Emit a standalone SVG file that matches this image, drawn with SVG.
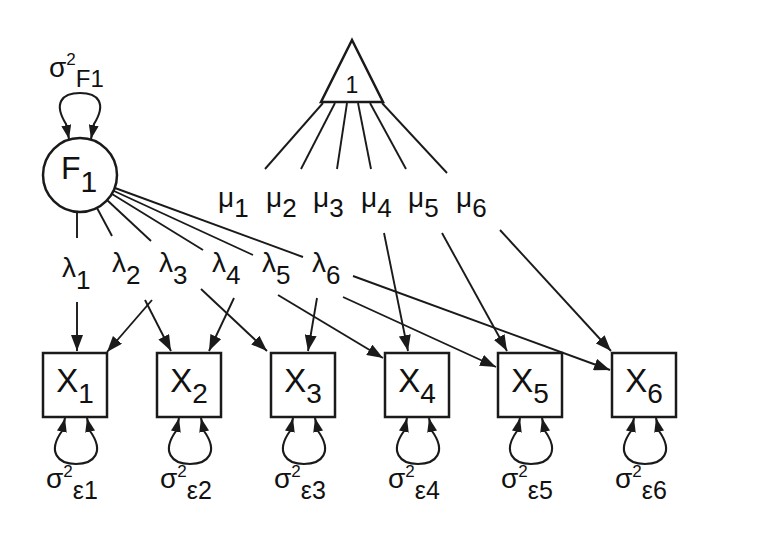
<svg xmlns="http://www.w3.org/2000/svg" width="768" height="541" viewBox="0 0 768 541">
<defs>
<style>
.ln{stroke:#1a1a1a;stroke-width:1.9;fill:none}
.ar{marker-end:url(#ah)}
.node{fill:#fff;stroke:#1a1a1a;stroke-width:2.5}
.t{font-family:"Liberation Sans",Arial,Helvetica,sans-serif;fill:#111}
.loop{stroke:#1a1a1a;stroke-width:2.1;fill:none;marker-start:url(#lh);marker-end:url(#lh)}
</style>
<marker id="ah" viewBox="0 0 16 12" refX="16" refY="6" markerWidth="16" markerHeight="12" markerUnits="userSpaceOnUse" orient="auto"><path d="M0,0 L16,6 L0,12 z" fill="#1a1a1a"/></marker>
<marker id="lh" viewBox="0 0 14 10" refX="14" refY="5" markerWidth="14" markerHeight="10" markerUnits="userSpaceOnUse" orient="auto-start-reverse"><path d="M0,0 L14,5 L0,10 z" fill="#1a1a1a"/></marker>
</defs>
<rect width="768" height="541" fill="#fff"/>

<g id="connectors">
  <!-- loadings F1 -> X -->
  <g id="e-lambda1"><line class="ln" x1="77" y1="212" x2="77" y2="238"/><line class="ln ar" x1="77" y1="302" x2="77" y2="351"/></g>
  <g id="e-lambda2"><line class="ln" x1="97" y1="208" x2="112" y2="236"/><line class="ln ar" x1="145" y1="300" x2="171" y2="351"/></g>
  <g id="e-lambda3"><line class="ln" x1="107" y1="200" x2="151" y2="241"/><line class="ln ar" x1="201" y1="289" x2="267" y2="351"/></g>
  <g id="e-lambda4"><line class="ln" x1="112" y1="194" x2="203" y2="250"/><line class="ln ar" x1="278" y1="295" x2="383" y2="358"/></g>
  <g id="e-lambda5"><line class="ln" x1="114" y1="191" x2="253" y2="255"/><line class="ln ar" x1="343" y1="297" x2="496" y2="367"/></g>
  <g id="e-lambda6"><line class="ln" x1="115" y1="188" x2="303" y2="257"/><line class="ln ar" x1="353" y1="276" x2="610" y2="370"/></g>
  <!-- intercepts 1 -> X -->
  <g id="e-mu1"><line class="ln" x1="323" y1="103" x2="265" y2="169"/><line class="ln ar" x1="152" y1="300" x2="107" y2="352"/></g>
  <g id="e-mu2"><line class="ln" x1="335" y1="103" x2="301" y2="169"/><line class="ln ar" x1="234" y1="298" x2="209" y2="351"/></g>
  <g id="e-mu3"><line class="ln" x1="347" y1="103" x2="337" y2="169"/><line class="ln ar" x1="317" y1="298" x2="308" y2="351"/></g>
  <g id="e-mu4"><line class="ln" x1="358" y1="103" x2="371" y2="169"/><line class="ln ar" x1="384" y1="233" x2="408" y2="351"/></g>
  <g id="e-mu5"><line class="ln" x1="370" y1="103" x2="406" y2="169"/><line class="ln ar" x1="442" y1="233" x2="507" y2="351"/></g>
  <g id="e-mu6"><line class="ln" x1="382" y1="103" x2="447" y2="173"/><line class="ln ar" x1="500" y1="230" x2="611" y2="351"/></g>
  <!-- variance loops -->
  <path id="loop-F1" class="loop" d="M69,139 L66,124 C53,103 62,93 80,93 C98,93 107,103 94,124 L91,139"/>
  <path id="loop-X1" class="loop" d="M65,418 L62,431 C47,452 58,464 76,464 C94,464 105,452 90,431 L87,418"/>
  <path id="loop-X2" class="loop" d="M179,418 L176,431 C161,452 172,464 190,464 C208,464 219,452 204,431 L201,418"/>
  <path id="loop-X3" class="loop" d="M293,418 L290,431 C275,452 286,464 304,464 C322,464 333,452 318,431 L315,418"/>
  <path id="loop-X4" class="loop" d="M407,418 L404,431 C389,452 400,464 418,464 C436,464 447,452 432,431 L429,418"/>
  <path id="loop-X5" class="loop" d="M520,418 L517,431 C502,452 513,464 531,464 C549,464 560,452 545,431 L542,418"/>
  <path id="loop-X6" class="loop" d="M634,418 L631,431 C616,452 627,464 645,464 C663,464 674,452 659,431 L656,418"/>
</g>

<g id="node-one">
  <polygon class="node" points="352,40 321,102 383,102" stroke-linejoin="miter"/>
  <text class="t" x="352" y="93" font-size="23" text-anchor="middle">1</text>
</g>

<g id="node-F1">
  <circle class="node" cx="80" cy="175" r="37"/>
  <text class="t" x="79" y="179" font-size="32" text-anchor="middle">F<tspan font-size="30" dy="13">1</tspan></text>
</g>

<g id="node-X1"><rect class="node" x="43" y="353" width="64" height="64"/><text class="t" x="75" y="392" font-size="33" text-anchor="middle">X<tspan font-size="28" dy="11">1</tspan></text></g>
<g id="node-X2"><rect class="node" x="157" y="353" width="64" height="64"/><text class="t" x="189" y="392" font-size="33" text-anchor="middle">X<tspan font-size="28" dy="11">2</tspan></text></g>
<g id="node-X3"><rect class="node" x="271" y="353" width="64" height="64"/><text class="t" x="303" y="392" font-size="33" text-anchor="middle">X<tspan font-size="28" dy="11">3</tspan></text></g>
<g id="node-X4"><rect class="node" x="385" y="353" width="64" height="64"/><text class="t" x="417" y="392" font-size="33" text-anchor="middle">X<tspan font-size="28" dy="11">4</tspan></text></g>
<g id="node-X5"><rect class="node" x="498" y="353" width="64" height="64"/><text class="t" x="530" y="392" font-size="33" text-anchor="middle">X<tspan font-size="28" dy="11">5</tspan></text></g>
<g id="node-X6"><rect class="node" x="612" y="353" width="64" height="64"/><text class="t" x="644" y="392" font-size="33" text-anchor="middle">X<tspan font-size="28" dy="11">6</tspan></text></g>

<g id="labels">
  <text class="t" x="49" y="77" font-size="28">σ<tspan font-size="17" dy="-12">2</tspan><tspan font-size="24" dy="22">F1</tspan></text>

  <text class="t" x="218" y="207" font-size="28">μ<tspan font-size="26" dy="10">1</tspan></text>
  <text class="t" x="266" y="207" font-size="28">μ<tspan font-size="26" dy="10">2</tspan></text>
  <text class="t" x="313" y="207" font-size="28">μ<tspan font-size="26" dy="10">3</tspan></text>
  <text class="t" x="361" y="207" font-size="28">μ<tspan font-size="26" dy="10">4</tspan></text>
  <text class="t" x="408" y="207" font-size="28">μ<tspan font-size="26" dy="10">5</tspan></text>
  <text class="t" x="456" y="207" font-size="28">μ<tspan font-size="26" dy="10">6</tspan></text>

  <text class="t" x="62" y="277" font-size="28">λ<tspan font-size="26" dy="12">1</tspan></text>
  <text class="t" x="112" y="272" font-size="28">λ<tspan font-size="26" dy="12">2</tspan></text>
  <text class="t" x="159" y="272" font-size="28">λ<tspan font-size="26" dy="12">3</tspan></text>
  <text class="t" x="212" y="272" font-size="28">λ<tspan font-size="26" dy="12">4</tspan></text>
  <text class="t" x="262" y="272" font-size="28">λ<tspan font-size="26" dy="12">5</tspan></text>
  <text class="t" x="312" y="272" font-size="28">λ<tspan font-size="26" dy="12">6</tspan></text>

  <text class="t" x="46" y="488" font-size="28">σ<tspan font-size="17" dy="-11">2</tspan><tspan font-size="25" dy="22">ε1</tspan></text>
  <text class="t" x="160" y="488" font-size="28">σ<tspan font-size="17" dy="-11">2</tspan><tspan font-size="25" dy="22">ε2</tspan></text>
  <text class="t" x="274" y="488" font-size="28">σ<tspan font-size="17" dy="-11">2</tspan><tspan font-size="25" dy="22">ε3</tspan></text>
  <text class="t" x="388" y="488" font-size="28">σ<tspan font-size="17" dy="-11">2</tspan><tspan font-size="25" dy="22">ε4</tspan></text>
  <text class="t" x="501" y="488" font-size="28">σ<tspan font-size="17" dy="-11">2</tspan><tspan font-size="25" dy="22">ε5</tspan></text>
  <text class="t" x="615" y="488" font-size="28">σ<tspan font-size="17" dy="-11">2</tspan><tspan font-size="25" dy="22">ε6</tspan></text>
</g>
</svg>
